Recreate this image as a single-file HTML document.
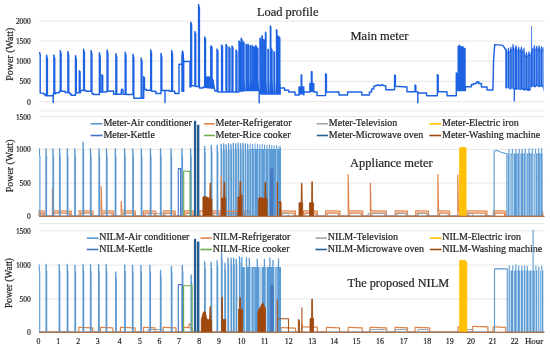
<!DOCTYPE html><html><head><meta charset="utf-8"><title>Load profile</title><style>html,body{margin:0;padding:0;background:#fff;width:550px;height:350px;overflow:hidden}svg{display:block;filter:blur(0.35px)}</style></head><body><svg width="550" height="350" viewBox="0 0 550 350">
<rect width="550" height="350" fill="#fff"/>
<path d="M39.5 21.1H544.5M39.5 41H544.5M39.5 61.1H544.5M39.5 81.3H544.5M39.5 101.7H544.5M39.5 116.6H544.5M39.5 149.4H544.5M39.5 183H544.5M39.5 216H544.5M39.5 230.9H544.5M39.5 265.1H544.5M39.5 298.9H544.5M39.5 332H544.5M39.5 110.9H544.5M39.5 223.6H544.5" stroke="#e6e6e6" stroke-width="1" fill="none"/>
<g font-family="Liberation Serif, serif" fill="#262626" stroke="#262626" stroke-width="0.22"><text x="30.8" y="24" font-size="8.4" text-anchor="end" textLength="14.9" lengthAdjust="spacingAndGlyphs">2000</text><text x="30.8" y="43.9" font-size="8.4" text-anchor="end" textLength="14.9" lengthAdjust="spacingAndGlyphs">1500</text><text x="30.8" y="64" font-size="8.4" text-anchor="end" textLength="14.9" lengthAdjust="spacingAndGlyphs">1000</text><text x="30.8" y="84.2" font-size="8.4" text-anchor="end" textLength="11.2" lengthAdjust="spacingAndGlyphs">500</text><text x="30.8" y="104.6" font-size="8.4" text-anchor="end" textLength="3.8" lengthAdjust="spacingAndGlyphs">0</text><text x="30.8" y="119.5" font-size="8.4" text-anchor="end" textLength="14.9" lengthAdjust="spacingAndGlyphs">1500</text><text x="30.8" y="152.3" font-size="8.4" text-anchor="end" textLength="14.9" lengthAdjust="spacingAndGlyphs">1000</text><text x="30.8" y="185.9" font-size="8.4" text-anchor="end" textLength="11.2" lengthAdjust="spacingAndGlyphs">500</text><text x="30.8" y="218.9" font-size="8.4" text-anchor="end" textLength="3.8" lengthAdjust="spacingAndGlyphs">0</text><text x="30.8" y="233.8" font-size="8.4" text-anchor="end" textLength="14.9" lengthAdjust="spacingAndGlyphs">1500</text><text x="30.8" y="268" font-size="8.4" text-anchor="end" textLength="14.9" lengthAdjust="spacingAndGlyphs">1000</text><text x="30.8" y="301.8" font-size="8.4" text-anchor="end" textLength="11.2" lengthAdjust="spacingAndGlyphs">500</text><text x="30.8" y="334.9" font-size="8.4" text-anchor="end" textLength="3.8" lengthAdjust="spacingAndGlyphs">0</text></g>
<g font-family="Liberation Serif, serif" fill="#262626" stroke="#262626" stroke-width="0.22" font-size="10"><text transform="translate(13.4 54.2) rotate(-90)" text-anchor="middle" textLength="53" lengthAdjust="spacingAndGlyphs">Power (Watt)</text><text transform="translate(12.5 165.8) rotate(-90)" text-anchor="middle" textLength="52.7" lengthAdjust="spacingAndGlyphs">Power (Watt)</text><text transform="translate(12.2 283) rotate(-90)" text-anchor="middle" textLength="50" lengthAdjust="spacingAndGlyphs">Power (Watt)</text></g>
<g font-family="Liberation Serif, serif" fill="#262626" stroke="#262626" stroke-width="0.22" font-size="8.6"><text x="38.5" y="344.4" text-anchor="middle" textLength="3.9" lengthAdjust="spacingAndGlyphs">0</text><text x="58.2" y="344.4" text-anchor="middle" textLength="3.9" lengthAdjust="spacingAndGlyphs">1</text><text x="78.2" y="344.4" text-anchor="middle" textLength="3.9" lengthAdjust="spacingAndGlyphs">2</text><text x="97.6" y="344.4" text-anchor="middle" textLength="3.9" lengthAdjust="spacingAndGlyphs">3</text><text x="119.6" y="344.4" text-anchor="middle" textLength="3.9" lengthAdjust="spacingAndGlyphs">4</text><text x="139.9" y="344.4" text-anchor="middle" textLength="3.9" lengthAdjust="spacingAndGlyphs">5</text><text x="159.5" y="344.4" text-anchor="middle" textLength="3.9" lengthAdjust="spacingAndGlyphs">6</text><text x="179" y="344.4" text-anchor="middle" textLength="3.9" lengthAdjust="spacingAndGlyphs">7</text><text x="199.2" y="344.4" text-anchor="middle" textLength="3.9" lengthAdjust="spacingAndGlyphs">8</text><text x="219" y="344.4" text-anchor="middle" textLength="3.9" lengthAdjust="spacingAndGlyphs">9</text><text x="241.4" y="344.4" text-anchor="middle" textLength="7.9" lengthAdjust="spacingAndGlyphs">10</text><text x="264.7" y="344.4" text-anchor="middle" textLength="7.9" lengthAdjust="spacingAndGlyphs">11</text><text x="288.7" y="344.4" text-anchor="middle" textLength="7.9" lengthAdjust="spacingAndGlyphs">12</text><text x="312.3" y="344.4" text-anchor="middle" textLength="7.9" lengthAdjust="spacingAndGlyphs">13</text><text x="334.1" y="344.4" text-anchor="middle" textLength="7.9" lengthAdjust="spacingAndGlyphs">14</text><text x="356.4" y="344.4" text-anchor="middle" textLength="7.9" lengthAdjust="spacingAndGlyphs">15</text><text x="380" y="344.4" text-anchor="middle" textLength="7.9" lengthAdjust="spacingAndGlyphs">16</text><text x="403.7" y="344.4" text-anchor="middle" textLength="7.9" lengthAdjust="spacingAndGlyphs">17</text><text x="427.3" y="344.4" text-anchor="middle" textLength="7.9" lengthAdjust="spacingAndGlyphs">18</text><text x="449.7" y="344.4" text-anchor="middle" textLength="7.9" lengthAdjust="spacingAndGlyphs">19</text><text x="470.9" y="344.4" text-anchor="middle" textLength="7.9" lengthAdjust="spacingAndGlyphs">20</text><text x="492.7" y="344.4" text-anchor="middle" textLength="7.9" lengthAdjust="spacingAndGlyphs">21</text><text x="514.6" y="344.4" text-anchor="middle" textLength="7.9" lengthAdjust="spacingAndGlyphs">22</text><text x="525" y="344.4" textLength="18.1" lengthAdjust="spacingAndGlyphs">Hour</text></g>
<g font-family="Liberation Serif, serif" fill="#262626" stroke="#262626" stroke-width="0.22" font-size="12.4"><text x="256.9" y="15.5" textLength="61.6" lengthAdjust="spacingAndGlyphs">Load profile</text><text x="350.5" y="39.6" textLength="58" lengthAdjust="spacingAndGlyphs">Main meter</text><text x="350" y="166.7" textLength="82.7" lengthAdjust="spacingAndGlyphs">Appliance meter</text><text x="347.6" y="287" textLength="101.5" lengthAdjust="spacingAndGlyphs">The proposed NILM</text></g>
<g font-family="Liberation Serif, serif" fill="#262626" stroke="#262626" stroke-width="0.22" font-size="10"><path d="M90.5 123.8H102.6" stroke="#5a98d0" stroke-width="1.6"/><text x="103.4" y="126">Meter-Air conditioner</text><path d="M203.8 123.8H214.8" stroke="#e0834a" stroke-width="1.6"/><text x="215.6" y="126">Meter-Refrigerator</text><path d="M316.8 123.8H328" stroke="#a5a5a5" stroke-width="1.6"/><text x="328.8" y="126">Meter-Television</text><path d="M429.4 123.8H441.2" stroke="#ffc000" stroke-width="1.6"/><text x="442" y="126">Meter-Electric iron</text><path d="M90.5 135.5H102.6" stroke="#4472c4" stroke-width="1.6"/><text x="103.4" y="137.7">Meter-Kettle</text><path d="M203.8 135.5H214.8" stroke="#70ad47" stroke-width="1.6"/><text x="215.6" y="137.7">Meter-Rice cooker</text><path d="M316.8 135.5H328" stroke="#255e91" stroke-width="1.6"/><text x="328.8" y="137.7">Meter-Microwave oven</text><path d="M429.4 135.5H441.2" stroke="#9e480e" stroke-width="1.6"/><text x="442" y="137.7">Meter-Washing machine</text></g>
<g font-family="Liberation Serif, serif" fill="#262626" stroke="#262626" stroke-width="0.22" font-size="10"><path d="M86.8 238.1H98.4" stroke="#5a98d0" stroke-width="1.6"/><text x="99.2" y="240.3">NILM-Air conditioner</text><path d="M200.5 238.1H211.9" stroke="#e0834a" stroke-width="1.6"/><text x="212.7" y="240.3">NILM-Refrigerator</text><path d="M315.5 238.1H326.9" stroke="#a5a5a5" stroke-width="1.6"/><text x="327.7" y="240.3">NILM-Television</text><path d="M429.8 238.1H441.5" stroke="#ffc000" stroke-width="1.6"/><text x="442.3" y="240.3">NILM-Electric iron</text><path d="M86.8 249.5H98.4" stroke="#4472c4" stroke-width="1.6"/><text x="99.2" y="251.7">NILM-Kettle</text><path d="M200.5 249.5H211.9" stroke="#70ad47" stroke-width="1.6"/><text x="212.7" y="251.7">NILM-Rice cooker</text><path d="M315.5 249.5H326.9" stroke="#255e91" stroke-width="1.6"/><text x="327.7" y="251.7">NILM-Microwave oven</text><path d="M429.8 249.5H441.5" stroke="#9e480e" stroke-width="1.6"/><text x="442.3" y="251.7">NILM-Washing machine</text></g>
<path d="M39.5 52L40.2 55V93.1H44V94.5H45.5V95.7H46.6V55.1L47.1 58.1L47.4 58.1V95.7H53.2V102.5V93.8H53.9V54.9L54.4 57.9L54.7 57.9V93.8H55.6V92.8H59.3V91.3H60.3V50.5L60.8 53.5L61.1 53.5V91.3H65V92.4H67.9V51.4L68.4 54.4L68.7 54.4V92.4H69.5V93.8H71V95.3H75.5V55.7L76 58.7L76.3 58.7V92.8H79.3V70.8L79.8 71.8L80.1 71.8V92.8H80.4V90.5H83.6V49.3L84.1 52.3L84.4 52.3V90.5H86.2V91.3H91.1V50.5L91.6 53.5L91.9 53.5V91.3H92V93.8H93.5V94.5H99.4V52.8L99.9 55.8L100.2 55.8V91.9H101.9V74.6L102.4 75.6L102.7 75.6V91.9H106.5V91.3H107.1V49.9L107.6 52.9L107.9 52.9V91.3H110.5V90.9H113.6V94.3H115.9V53.7L116.4 56.7L116.7 56.7V94.3H121.3V90.2H122V89L122.5 89.5L122.8 89.5V90.2H123V94.3H125.2V52.2L125.7 55.2L126 55.2V93.8H125.9V94.5H133V54.3L133.5 57.3L133.8 57.3V98.2H141.2V58L141.7 61L142 61V98.2H143.7V76.7L144.2 77.7L144.5 77.7V89.5H146.4V90.2H150.7V49.9L151.2 52.9L151.5 52.9V91.3H155.8V93.4H161V53.4L161.5 56.4L161.8 56.4V90.5H165V102.5V90.5H169.6V91.3H171.7V50.5L172.2 53.5L172.5 53.5V91.3H174.7V93.4H179V64.3H182.3H182.5V50.9L183 53.9L183.3 53.9V61.4H190V87H190.8V22.3L191.3 24.3L191.6 24.3V85.7H194.9V31.4L195.4 33.4L195.7 33.4V86.5H198.6V4.5L199.1 7.5L199.4 7.5V88H203V87H204.7V37L205.2 39L205.5 39V80L205.8 76L206.6 84L207.2 77L208 85L208.6 78L209.4 86L210 79H210.8V46L211.5 47L212 47V86L211.5 88L213 80L214 87L215 91H217V49L217.5 50L217.9 51V92H221.6V45L222.1 46L222.5 47V92H226V44.4L226.5 45.4L226.9 46.4V92H229V47L229.5 48L229.9 49V92H232V46L232.5 47L232.9 48V92H236V50L236.5 51L236.9 52V92H239V41L239.5 42L239.9 43V91H241.2V38.2L241.7 39.2L242.1 40.2V91H243.6V41.9L244 42.9V80L244.5 90.6H246.1V44.3L246.5 45.3V80L247 90.6H248V44.3L248.4 45.3V80L248.9 90.6H250.2V45.5L250.6 46.5V80L251.1 90.6H252.2V45.5L252.6 46.5V80L253.1 90.6H254.1V46.8L254.5 47.8V80L255 90.6H255.8V45.5L256.2 46.5V80L256.7 90.6H257.5V48L257.9 49V80L258.4 90.6H259.2V102.7V93H260V38.2L260.4 39.2V80L260.9 94H261.9V35.8L262.3 36.8V80L262.8 94H263.8V39.5L264.2 40.5V80L264.7 94H265.5V32.2L265.9 33.2V80L266.4 94H268V49.2L268.4 50.2V80L268.9 94H270.4V26L270.8 27V80L271.3 94H271.6V49L272 50V80L272.5 94H274V51.6L274.4 52.6V80L274.9 94H276.5V29.7L276.9 30.7V80L277.4 94H277.7V35.8L278.1 36.8V80L278.6 94H279.4V37L279.8 38V80L280.3 94H280V88H284.5V90.2H288.7V92H295V95H299.2V87H301.2V75H301.7V87H303.8V95V92H310V83.6H311.4V71.6H312V83.6H313.8V92H317V95.6H325.6V73.8L326.1 74.3L326.4 74.3V92H339V95H347.6V92H361.8V95H369.5V92H371.6V89H373.8V86.5L376 85.5L378 85L380 85.5L382 84.8L384 85.5L385.8 86V89.8H394.6V75L395.1 75.5L395.4 75.5V86.3L407 87V91.7H415V85L415.5 85.5L415.8 85.5V91.7H417.8V102.7V92.9H426.6V95.8H437.4V74.6L437.9 75.1L438.2 75.1V91.7H447V95.8H456.3V73L456.8 73.5L457.1 73.5V90.5H458.2V46.5H458.7V90.5H459.1V45.5H459.6V90.5H460V47.5H460.5V90.5H460.9V46.8H461.4V90.5H461.8V48H462.3V90.5H462.7V47H463.2V90.5H463.6V49H464.1V90.5H464.5V48.5H465V90.5H465.4V86.7H471.4V84.5H473.5V83.7H475.7V82.9H477V81.8H478.8V83.5H481.4V87H487V90H492.9L493.6 60L494.7 44.6L502.9 45.4L506 50.4V88" stroke="#1d62e3" stroke-width="1.45" fill="none" stroke-linejoin="round" />
<path d="M506 50.4L505.8 49L506.3 48.5L506.8 49.3L507.4 53.5L508 48L508.5 47.5L509 48.3L509.7 52.5L510.4 47L510.9 46.5L511.4 47.3L512.1 51.5L512.5 44.2L513 43.7L513.5 44.5L514.4 50L515.5 45.5L516 45L516.5 45.8L517.5 51.5L518.2 47L518.7 46.5L519.2 47.3L519.9 51.5L521 47L521.5 46.5L522 47.3L523 52.5L523.5 48L524 47.5L524.5 48.3L525.1 56.8L526 52.3L526.5 51.8L527 52.6L527.8 56.8L528.5 51.5L529 51L529.5 51.8L530.1 56L531.2 50L531.3 25.7L532 25.7L532.1 47L533.2 49.7L533.9 45.2L534.4 44.7L534.9 45.5L535.6 50.5L536.3 46L536.8 45.5L537.3 46.3L537.9 50.5L538.6 45.5L539.1 45L539.6 45.8L540.3 51L541 46.5L541.5 46L542 46.8L542.6 52L542.5 47.5L543 47L543.5 47.8L543.6 92.5L542.8 87.5L541 86.5L539 87.3L537 86L535 87.5L533 86.5L531 87.5L530.5 90.8L528 91L526 90L524 90.8L522 89.5L520 90L518 89.2L516 90L514 89.5L512 88.5L510 89.7L508 87.8L506 89Z" fill="#1d62e3"/><path d="M507.4 53.5V88.6M509.7 52.5V88.6M512.1 51.5V88.6M514.4 50V88.6M517.5 51.5V88.6M519.9 51.5V88.6M523 52.5V88.6M525.1 56.8V88.6M527.8 56.8V88.6M530.1 56V88.6M533.2 49.7V85.5M535.6 50.5V85.5M537.9 50.5V85.5M540.3 51V85.5M542.6 52V85.5" stroke="#fff" stroke-width="0.45" opacity="0.85"/><path d="M514.3 88V101.4" stroke="#1d62e3" stroke-width="1.3"/>
<path d="M298.6 94.5V87H303.9V94.5ZM309.6 92V82.8H313.8V92ZM181.3 92V56L182 51H183L184.4 60V92ZM204.3 88V79L205.5 76.5L207 77.5L208.5 76L210 77L211.5 76.5L213 79L214.3 86L214.3 89Z" fill="#1d62e3"/>
<path d="M39 216H39V210.8L40.2 210.8L44.2 211.2V216M40.6 216V212.8L42.8 213.1V216M44.2 216H52.4V188.8L53 210.8L53.6 210.8L71.2 211.2V216M54 216V212.8L69.8 213.1V216M71.2 216H79V210.8L80.2 210.8L93 211.2V216M80.6 216V212.8L91.6 213.1V216M93 216H101.2V186.5L101.8 210.8L102.4 210.8L113.5 211.2V216M102.8 216V212.8L112.1 213.1V216M113.5 216H121.2V201.4L121.8 210.8L122.4 210.8L135.3 211.2V216M122.8 216V212.8L133.9 213.1V216M135.3 216H143.5V210.8L144.7 210.8L155.7 211.2V216M145.1 216V212.8L154.3 213.1V216M155.7 216H163.4V210.8L164.6 210.8L175.2 211.2V216M165 216V212.8L173.8 213.1V216M175.2 216H184.5V210.8L185.7 210.8L193.2 211.2V216M186.1 216V212.8L191.8 213.1V216M193.2 216H200V210.8L201.2 210.8L203.6 211.2V216H212.1V210.8L213.3 210.8L220.7 211.2V216M213.7 216V212.8L219.3 213.1V216M220.7 216H221.4V175.7L222 211.4L222.6 211.4L237.9 211.8V216M223 216V213.4L236.5 213.7V216M237.9 216H242.9V210.8L244.1 210.8L257.2 211.2V216M244.5 216V212.8L255.8 213.1V216M257.2 216H267V210.8L268.2 210.8L274.6 211.2V216M268.6 216V212.8L273.2 213.1V216M274.6 216H280.3V210.8L281.5 210.8L295.5 211.2V216M281.9 216V212.8L294.1 213.1V216M295.5 216H303.6V210.8L304.8 210.8L317.3 211.2V216M305.2 216V212.8L315.9 213.1V216M317.3 216H325.5V210.8L326.7 210.8L340 211.2V216M327.1 216V212.8L338.6 213.1V216M340 216H348.2V174.5L348.8 210.8L349.4 210.8L362.7 211.2V216M349.8 216V212.8L361.3 213.1V216M362.7 216H370.4V183L371 210.8L371.6 210.8L386.4 211.2V216M372 216V212.8L385 213.1V216M386.4 216H395.3V210.8L396.5 210.8L407.5 211.2V216M396.9 216V212.8L406.1 213.1V216M407.5 216H415.7V210.8L416.9 210.8L428.5 211.2V216M417.3 216V212.8L427.1 213.1V216M428.5 216H437.9V174.7L438.5 210.8L439.1 210.8L449.6 211.2V216M439.5 216V212.8L448.2 213.1V216M449.6 216H457.8V175.1L458.4 210.8L459 210.8L459.5 211.2V216H467V210.8L468.2 210.8L486.9 211.2V216M468.6 216V212.8L485.5 213.1V216M486.9 216H493.4V210.8L494.6 210.8L506 211.2V216M495 216V212.8L504.6 213.1V216M506 216H512.9V210.8L514.1 210.8L524.3 211.2V216M514.5 216V212.8L522.9 213.1V216M524.3 216H533V174.3L533.6 210.8L534.2 210.8L542.6 211.2V216M534.6 216V212.8L541.2 213.1V216M542.6 216H544" stroke="#e0834a" stroke-width="1.2" fill="none" stroke-linejoin="round" />
<path d="M148.7 216V213.6H165V216M281 216V213.6H288.2V216M368 216V213.6H386.4V216M395.3 216V213.6H407.5V216M418 216V213.6H428V216M467 216V213.6H472.7V216" stroke="#a5a5a5" stroke-width="1.0" fill="none" stroke-linejoin="round" />
<path d="M39 148.5H39.2V148.5L39.5 150V155.5L39.9 156V216H45.9V148.5L46.2 150V155.5L46.6 156V216H52.9V148.5L53.2 150V155.5L53.6 156V216H59.5V148.5L59.8 150V155.5L60.2 156V216H67.2V148.5L67.5 150V155.5L67.9 156V216H74.7V148.5L75 150V155.5L75.4 156V216H82.9V142L83.2 143.5V149L83.6 149.5V216H90.4V148.5L90.7 150V155.5L91.1 156V216H98.9V148.5L99.2 150V155.5L99.6 156V216H106.4V148.5L106.7 150V155.5L107.1 156V216H115.2V148.5L115.5 150V155.5L115.9 156V216H124.5V148.5L124.8 150V155.5L125.2 156V216H132.7V148.5L133 150V155.5L133.4 156V216H141.2V148.5L141.5 150V155.5L141.9 156V216H150.3V148.5L150.6 150V155.5L151 156V216H160.4V148.5L160.7 150V155.5L161.1 156V216H170.9V148.5L171.2 150V155.5L171.6 156V216H181.8V148.5L182.1 150V155.5L182.5 156V216H190.5V148.5L190.8 150V155.5L191.2 156V216H204.5V146L204.8 147.5V152L205.2 152.5V216H211.2V145L211.5 146.5V151L211.9 151.5V216H217.1V145L217.4 146.5V151L217.8 151.5V216H221.1V144L221.4 145.5V150L221.8 150.5V216H223.6V143.5L223.9 145V149.5L224.3 150V216H226V144.5L226.3 146V150.5L226.7 151V216H228.4V143.5L228.7 145V149.5L229.1 150V216H230.8V144L231.1 145.5V150L231.5 150.5V216H233.2V143L233.5 144.5V149L233.9 149.5V216H235.6V143.5L235.9 145V149.5L236.3 150V216H238V142.8L238.3 144.3V148.8L238.7 149.3V216H240.4V143.5L240.7 145V149.5L241.1 150V216H242.8V143L243.1 144.5V149L243.5 149.5V216H245.2V143.5L245.5 145V149.5L245.9 150V216H247.6V144L247.9 145.5V150L248.3 150.5V216H494.1V151.4L496.4 150.3L499 151.5L506 153.7L506.9 153.7V216" stroke="#5a98d0" stroke-width="1.1" fill="none" stroke-linejoin="round" />
<path d="M249.3 216V149H281V216Z" fill="#5b9bd5"/><path d="M250.2 149.5V143.5M252.6 149.5V144M255 149.5V143.5M257.4 149.5V144M259.8 149.5V144.5M262.2 149.5V144M264.6 149.5V144.5M267 149.5V145M269.4 149.5V144.5M271.8 149.5V145M274.2 149.5V145.5M276.6 149.5V145M279 149.5V146M280.4 149.5V146.5" stroke="#5b9bd5" stroke-width="1.0" fill="none"/><path d="M251.5 150V215.5M254.3 150V215.5M258.4 150V215.5M261 150V215.5M265.3 150V215.5M268.7 150V215.5M276.7 150V215.5" stroke="#b5d0ec" stroke-width="0.8" fill="none"/><path d="M507.8 216V153.6H542.6V216Z" fill="#5b9bd5"/><path d="M509 154.1V149M512.4 154.1V149M515.9 154.1V149M519.3 154.1V148.7M522.1 154.1V148.7M525.3 154.1V148.5M529 154.1V148.3M532.4 154.1V148.5M535.6 154.1V148.7M538.7 154.1V148.5M541.6 154.1V148.3" stroke="#5b9bd5" stroke-width="1.1" fill="none"/><path d="M511.2 154.6V215.5M517.2 154.6V215.5M523.5 154.6V215.5M530.8 154.6V215.5M537.4 154.6V215.5M540.3 154.6V215.5M528.2 154.6V215.5" stroke="#b9d3ee" stroke-width="0.8" fill="none"/><path d="M509.9 153.3V215.5M513.2 153.3V215.5M520.1 153.3V215.5M526.1 153.3V215.5M533.2 153.3V215.5M535.1 153.3V215.5" stroke="#fff" stroke-width="0.8" fill="none"/>
<path d="M221.4 216V175.7M221.4 211.4H237.9" stroke="#e0834a" stroke-width="1.2" fill="none" stroke-linejoin="round" />
<path d="M459.7 216V148.5L460.5 147.3L461.5 147.8L463 147.2L464.5 147.6L466 148.2V216Z" stroke="#ffc000" stroke-width="1.0" fill="#ffc000" stroke-linejoin="round" />
<path d="M178.3 216V168.6H180.6V216" stroke="#4472c4" stroke-width="1.1" fill="none" stroke-linejoin="round" />
<path d="M183.7 216V171H186L190 171.6V216" stroke="#70ad47" stroke-width="1.1" fill="none" stroke-linejoin="round" />
<path d="" stroke="#255e91" stroke-width="1.2" fill="none" stroke-linejoin="round" />
<path d="M269.9 216V168.6H273.3V216Z" fill="#4679c2"/><path d="M193.9 216V121.4L194.6 120.8H196.2V216ZM196.9 216V125.4L197.5 124.8H199.4V216Z" fill="#255e91"/>
<path d="M202.9 216L202.9 197L204 196.5L205 197.5L206 196L207 198L208 197L209 199L209.8 199L210 183L210.6 183L210.8 199L211.9 199L211.9 216ZM221.4 216L221.4 198L223.8 198L224.1 182.1L224.7 182.1L225 198L225.7 198L225.7 216ZM237.9 216L237.9 197.1L239.7 197.1L240 181.4L240.6 181.4L240.9 196L241.4 195L242.1 195L242.1 216ZM258.4 216L258.4 198.4L260 197.5L262 198L264 198.5L264.8 198L265 182L265.6 182L266 198.4L267.1 198.4L267.1 216ZM279.6 216L279.6 216L280 201.8L281 201.8L281 216ZM299 216L299 202.7L301.2 202.7L301.4 183.3L302 183.3L302.2 202.7L302.7 202.7L302.7 216ZM309.5 216L309.5 202.7L311.6 202.7L311.8 181.8L312.4 181.8L312.6 202.7L313.6 202.7L313.6 216Z" stroke="#9e480e" stroke-width="0.8" fill="#9e480e" stroke-linejoin="round" />
<path d="M39 332H78.8V327.4L80 327.4L92.7 327.8V332H100.3V327.4L101.5 327.4L112.8 327.8V332H120.4V327.4L121.6 327.4L135 327.8V332H143.5V327.4L144.7 327.4L155.1 327.8V332H163.2V327.4L164.4 327.4L176 327.8V332H183.6V327.4L184.8 327.4L192.1 327.8V332H243V326.7L244.2 326.7L258.2 327.1V332H280.9V327.7L282.1 327.7L295.5 328.1V332H301.8V324L302.4 326.8L303 326.8L317.3 327.2V332H326.4V327.4L327.6 327.4L339.6 327.8V332H348.2V327.4L349.4 327.4L362.2 327.8V332H370V327.4L371.2 327.4L386.7 327.8V332H395V327.4L396.2 327.4L407.5 327.8V332H415.1V327.4L416.3 327.4L429.7 327.8V332H458V326.8L459.2 326.8L460.3 327.2V332H472.7V326.4L473.9 326.4L487.9 326.8V332H493.1V326.9L494.3 326.9L505.7 327.3V332H512.6V326L513.8 326L515.1 326.4V332H544M188.5 327.4L189.5 323.7L190.5 325" stroke="#e0834a" stroke-width="1.2" fill="none" stroke-linejoin="round" />
<path d="M148 332V329.5H163.2V332M370 332V329.5H386.7V332M395.5 332V329.5H407V332M467 332V329.5H472.7V332M418 332V329.5H428V332" stroke="#a5a5a5" stroke-width="1.0" fill="none" stroke-linejoin="round" />
<path d="M39 264.3H39V264.3L39.3 265.8V270.8L39.7 271.3V332H46V264.3L46.3 265.8V270.8L46.7 271.3V332H59.1V264.3L59.4 265.8V270.8L59.8 271.3V332H67.2V264.3L67.5 265.8V270.8L67.9 271.3V332H74.9V265L75.2 266.5V271.5L75.6 272V332H83V264.3L83.3 265.8V270.8L83.7 271.3V332H90.4V264.5L90.7 266V271L91.1 271.5V332H98.5V264.3L98.8 265.8V270.8L99.2 271.3V332H106.1V264.3L106.4 265.8V270.8L106.8 271.3V332H115.6V271.7L115.9 273.2V278.2L116.3 278.7V332H124.6V264.7L124.9 266.2V271.2L125.3 271.7V332H132.4V265L132.7 266.5V271.5L133.1 272V332H140.8V265L141.1 266.5V271.5L141.5 272V332H149.8V265L150.1 266.5V271.5L150.5 272V332H160.4V270L160.7 271.5V276.5L161.1 277V332H171.3V266L171.6 267.5V272.5L172 273V332H182.2V265L182.5 266.5V271.5L182.9 272V332H191V274.7L191.3 276.2V281.2L191.7 281.7V332H204.6V261.7L204.9 263.2V267.7L205.3 268.2V332H211V262L211.3 263.5V268L211.7 268.5V332H217V260.4L217.3 261.9V266.4L217.7 266.9V332H221.4V252.7L221.7 254.2V258.7L222.1 259.2V332H224.8V263L225.1 264.5V269L225.5 269.5V332H227.9V257.9L228.2 259.4V263.9L228.6 264.4V332H231V258L231.3 259.5V264L231.7 264.5V332H233.5V258L233.8 259.5V264L234.2 264.5V332H236.1V259L236.4 260.5V265L236.8 265.5V332H239.4V256.6L239.7 258.1V262.6L240.1 263.1V332H494.5V268.9H507.3V332" stroke="#5a98d0" stroke-width="1.1" fill="none" stroke-linejoin="round" />
<path d="M241 332V267H281V332Z" fill="#5b9bd5"/><path d="M241.8 267.5V257M246.5 267.5V257.5M249.3 267.5V258M257.3 267.5V258.5M264.4 267.5V259M269.9 267.5V257.5M273 267.5V260M278.5 267.5V258.5" stroke="#5b9bd5" stroke-width="1.3" fill="none"/><path d="M254 268V331.5M276.8 268V331.5" stroke="#b5d0ec" stroke-width="0.9" fill="none"/><path d="M245.3 266.7V331.5M251 266.7V331.5M259.9 266.7V331.5M261.2 266.7V331.5M266.2 266.7V331.5M274.8 266.7V331.5" stroke="#fff" stroke-width="0.9" fill="none"/><path d="M508.6 332V270.5H543.3V332Z" fill="#5b9bd5"/><path d="M509.3 271V265.4M512.8 271V265.4M515.9 271V264.3M518.7 271V265.4M521.9 271V265.4M524.7 271V265.4M527.3 271V266M533.1 271V229.7M535.9 271V265.4M538.8 271V266.5M541.8 271V265.4" stroke="#5b9bd5" stroke-width="1.1" fill="none"/><path d="M510.3 270.2V331.5M513.7 270.2V331.5M517.1 270.2V331.5M520.4 270.2V331.5M523.3 270.2V331.5M525.8 270.2V331.5M529 270.2V331.5M531.9 270.2V331.5M535.2 270.2V331.5M537.6 270.2V331.5M539.4 270.2V331.5M541.2 270.2V331.5" stroke="#fff" stroke-width="0.8" fill="none"/>
<path d="M459.8 332V261L461 260L462.5 260.8L464 260.2L465.5 261L466.8 262V332Z" stroke="#ffc000" stroke-width="1.0" fill="#ffc000" stroke-linejoin="round" />
<path d="M178.3 332V284.6H182.2V332" stroke="#4472c4" stroke-width="1.1" fill="none" stroke-linejoin="round" />
<path d="M183.6 332V285.8H192.1V332" stroke="#70ad47" stroke-width="1.1" fill="none" stroke-linejoin="round" />
<path d="" stroke="#255e91" stroke-width="1.2" fill="none" stroke-linejoin="round" />
<path d="M270.3 332V284.9H273.7V332Z" fill="#4679c2"/><path d="M193.9 332V239.4L194.6 238.8H196.2V332ZM196.9 332V242.2L197.5 241.6H199.4V332Z" fill="#255e91"/>
<path d="M201.3 332L201.3 320L202.5 315L203.5 312L204.6 311.3L205.5 313L206.5 318L207.5 319.5L208.5 319.5L209.5 320L210 306.6L210.6 306.6L211 320L211.6 320L211.6 332ZM221.5 332L221.5 319.5L221.8 297.6L222.4 297.6L222.7 319.5L225.7 319.5L225.7 332ZM238.5 332L238.5 309.2L239.5 309.2L239.8 297.6L240.4 297.6L240.7 309.2L242.4 309.2L242.4 332ZM257.8 332L257.8 312L259 309L260.5 307L262 304L262.9 302.8L263.8 305L264.5 307L265.5 309L265.5 332ZM298.3 332L298.3 319.5L298.7 319.5L299 319.5L299.5 322L299.5 332ZM310 332L310 318.6L311.5 318.6L311.8 299L312.4 299L312.7 318.6L313.6 318.6L313.6 332Z" stroke="#9e480e" stroke-width="0.8" fill="#9e480e" stroke-linejoin="round" />
<path d="M277.3 332V318.7H288.5V332M277.3 332V299.2M301.9 332V307.5" stroke="#a8501a" stroke-width="1.1" fill="none" stroke-linejoin="round" />
<path d="M277.4 216V182.1M277.4 202.5H280.6V216" stroke="#9e480e" stroke-width="1.2" fill="none" stroke-linejoin="round" />
<path d="M39 216.4H544.5M39 332.4H544.5" stroke="#b5713f" stroke-width="1.2" fill="none" stroke-linejoin="round" />
</svg></body></html>
